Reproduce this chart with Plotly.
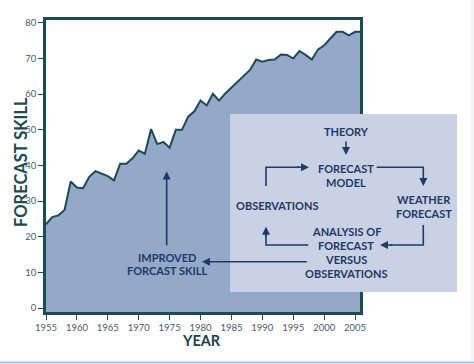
import plotly.graph_objects as go

# ---------------- data ----------------
years = list(range(1955, 2007))
skill = [23.5, 25.5, 26.0, 27.5, 35.5, 33.8, 33.6, 36.8, 38.4, 37.8,
         37.0, 35.8, 40.5, 40.5, 42.0, 44.2, 43.3, 50.2, 46.0, 46.6,
         45.0, 50.0, 50.0, 53.7, 55.2, 58.2, 56.8, 60.1, 58.2, 60.2,
         61.8, 63.5, 65.1, 66.8, 69.7, 69.1, 69.6, 69.7, 71.1, 71.0,
         70.0, 72.1, 71.0, 69.7, 72.5, 73.7, 75.6, 77.5, 77.5, 76.5,
         77.5, 77.5]
x_ticks = list(range(1955, 2006, 5))
y_ticks = list(range(0, 81, 10))

# ---------------- style ----------------
W, H = 474, 364
L, R, T, B = 46, 114, 20, 52
PW, PH = W - L - R, H - T - B
XMIN, XMAX = 1955, 2005.8
YMIN, YMAX = -1.1, 80.8

TEAL = "#1d4b50"
FILL = "#94a8c9"
BOX = "#c9d2e4"
NAVY = "#223866"
TICKC = "#4c5a68"
FONT = "Lato"


def px(x):
    return (x - L) / PW


def py(y):
    return (T + PH - y) / PH


fig = go.Figure()
fig.add_trace(go.Scatter(x=years, y=[YMIN] * len(years), mode="lines",
                         line=dict(width=0, color=FILL), hoverinfo="skip",
                         showlegend=False))
fig.add_trace(go.Scatter(x=years, y=skill, mode="lines", fill="tonexty",
                         fillcolor=FILL, line=dict(color=TEAL, width=2),
                         showlegend=False))

shapes = []
# diagram box
shapes.append(dict(type="rect", xref="paper", yref="paper",
                   x0=px(230), x1=px(457), y0=py(292), y1=py(114),
                   fillcolor=BOX, line=dict(width=0), layer="above"))


def path(pts):
    s = "M " + " L ".join(f"{px(a)},{py(b)}" for a, b in pts)
    return dict(type="path", xref="paper", yref="paper", path=s,
                line=dict(color=NAVY, width=1.6), layer="above")


shapes.append(path([(266, 186), (266, 167.3), (300, 167.3)]))
shapes.append(path([(376.7, 167.3), (423.3, 167.3), (423.3, 180)]))
shapes.append(path([(423.3, 225), (423.3, 245), (390, 245)]))
shapes.append(path([(308.3, 245), (266, 245), (266, 235)]))
# page frame
shapes.append(dict(type="line", xref="paper", yref="paper",
                   x0=px(0), x1=px(474), y0=py(362.5), y1=py(362.5),
                   line=dict(color="#a9c3de", width=2)))
shapes.append(dict(type="line", xref="paper", yref="paper",
                   x0=px(472), x1=px(472), y0=py(0), y1=py(362),
                   line=dict(color="#e3e9f0", width=1)))

ann = []


def txt(t, x, y, size=11, color=NAVY, **kw):
    ann.append(dict(text=f"<b>{t}</b>", x=px(x), y=py(y), xref="paper",
                    yref="paper", showarrow=False, xanchor="center",
                    yanchor="middle", font=dict(family=FONT, size=size,
                                                color=color), **kw))


def arrow(hx, hy, tx, ty):
    ann.append(dict(text="", x=px(hx), y=py(hy), xref="paper", yref="paper",
                    ax=tx - hx, ay=ty - hy, showarrow=True, arrowhead=2,
                    arrowsize=1, arrowwidth=1.6, arrowcolor=NAVY,
                    standoff=0, startstandoff=0))


txt("THEORY", 346, 131)
txt("FORECAST", 346, 168.3)
txt("MODEL", 346, 182.7)
txt("OBSERVATIONS", 277, 205.7)
txt("WEATHER", 424.3, 199.3)
txt("FORECAST", 424.3, 213.3)
txt("ANALYSIS OF", 346, 231.7)
txt("FORECAST", 346, 245.7)
txt("VERSUS", 346, 259.3)
txt("OBSERVATIONS", 346, 273.3)
txt("IMPROVED", 166.7, 257.3)
txt("FORCAST SKILL", 167, 270.7)

arrow(346, 155, 346, 140)
arrow(309, 167.3, 295, 167.3)
arrow(423.3, 186, 423.3, 176)
arrow(380, 245, 394, 245)
arrow(266, 226.7, 266, 238)
arrow(202, 261.7, 308.3, 261.7)
arrow(166.7, 171.5, 166.7, 246.7)

txt("FORECAST SKILL", 20.5, 162.5, size=16.5, color=TEAL, textangle=-90)
txt("YEAR", 201.7, 340.5, size=14.5, color="#1d3f4c")

axis_common = dict(showline=True, linecolor=TEAL, linewidth=2.5, mirror=True,
                   showgrid=False, zeroline=False, ticks="outside",
                   ticklen=5, tickwidth=1.3, tickcolor=TEAL,
                   tickfont=dict(family=FONT, size=9.5, color=TICKC))

fig.update_layout(
    width=W, height=H,
    margin=dict(l=L, r=R, t=T, b=B),
    paper_bgcolor="white", plot_bgcolor="white",
    xaxis=dict(range=[XMIN, XMAX], tickvals=x_ticks, **axis_common),
    yaxis=dict(range=[YMIN, YMAX], tickvals=y_ticks, **axis_common),
    shapes=shapes, annotations=ann, showlegend=False,
)

fig.write_html("out.html", config={"displayModeBar": False},
               post_script="document.body.style.margin='0';"
                           "document.body.style.overflow='hidden';")
